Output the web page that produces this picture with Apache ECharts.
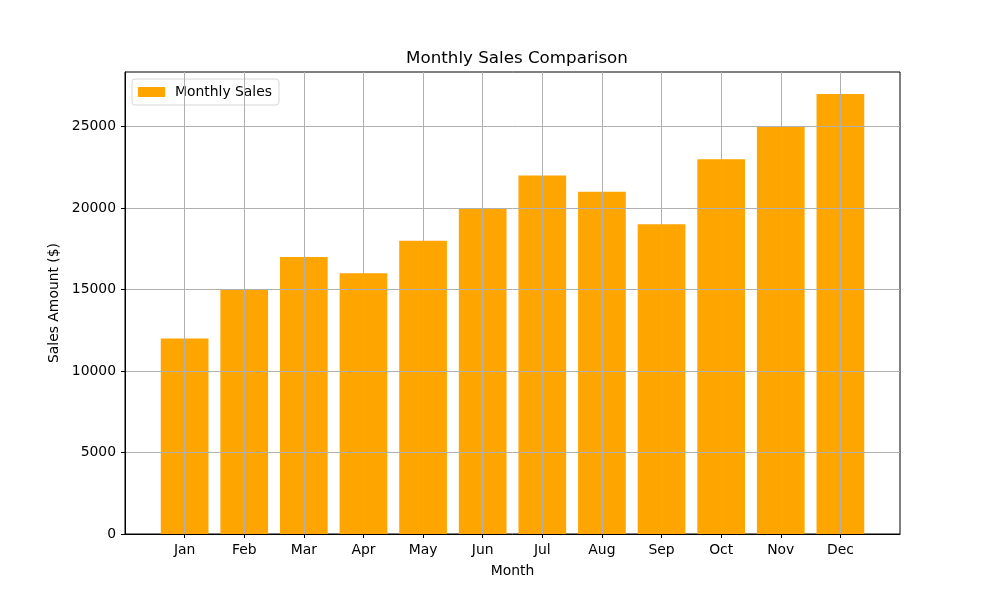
<!DOCTYPE html>
<html>
<head>
<meta charset="utf-8">
<script src="https://cdn.jsdelivr.net/npm/echarts@6/dist/echarts.min.js"></script>
<style>
  html, body { margin: 0; padding: 0; background: #fff; }
  #chart { width: 1000px; height: 600px; }
</style>
</head>
<body>
<div id="chart"></div>
<script>
// data
const months = ['Jan', 'Feb', 'Mar', 'Apr', 'May', 'Jun', 'Jul', 'Aug', 'Sep', 'Oct', 'Nov', 'Dec']
const sales = [12000, 15000, 17000, 16000, 18000, 20000, 22000, 21000, 19000, 23000, 25000, 27000]
const yTicks = [0, 5000, 10000, 15000, 20000, 25000]

const font = 'DejaVu Sans'
const chart = echarts.init(document.getElementById('chart'))

const option = {
  animation: false,
  title: {
    text: 'Monthly Sales Comparison',
    left: 512,
    top: 45,
    textAlign: 'center',
    textStyle: { fontFamily: font, fontSize: 16.7, fontWeight: 'normal', color: '#000' }
  },
  legend: {
    left: 132,
    top: 79,
    padding: [6, 7, 6, 6],
    itemWidth: 27,
    itemHeight: 10,
    icon: 'rect',
    backgroundColor: 'rgba(255,255,255,0.8)',
    borderColor: '#d6d6d6',
    borderWidth: 1,
    borderRadius: 3,
    textStyle: { fontFamily: font, fontSize: 13.9, color: '#000', padding: [0, 0, 0, 5] },
    data: ['Monthly Sales']
  },
  grid: {
    left: 125,
    right: 100,
    top: 72,
    bottom: 66,
    show: true,
    borderColor: '#000',
    borderWidth: 1
  },
  xAxis: {
    type: 'value',
    min: -1,
    max: 12,
    interval: 1,
    z: 5,
    name: 'Month',
    nameLocation: 'middle',
    nameGap: 30,
    nameTextStyle: { fontFamily: font, fontSize: 13.9, color: '#000' },
    axisLine: { show: true, onZero: false, lineStyle: { color: '#000', width: 1 } },
    axisTick: {
      show: true,
      customValues: months.map((m, i) => i),
      length: 4,
      inside: false,
      lineStyle: { color: '#000', width: 1 }
    },
    axisLabel: {
      customValues: months.map((m, i) => i),
      formatter: v => months[v] || '',
      fontFamily: font,
      fontSize: 13.9,
      color: '#000',
      margin: 9
    },
    splitLine: { show: true, lineStyle: { color: '#b0b0b0', width: 1 } }
  },
  yAxis: {
    type: 'value',
    min: 0,
    max: 28350,
    z: 5,
    name: 'Sales Amount ($)',
    nameLocation: 'middle',
    nameGap: 53,
    nameTextStyle: { fontFamily: font, fontSize: 13.9, color: '#000' },
    axisLine: { show: true, onZero: false, lineStyle: { color: '#000', width: 1 } },
    axisTick: {
      show: true,
      customValues: yTicks,
      length: 4,
      inside: false,
      lineStyle: { color: '#000', width: 1 }
    },
    axisLabel: {
      customValues: yTicks,
      formatter: v => String(v),
      fontFamily: font,
      fontSize: 13.9,
      color: '#000',
      margin: 9
    },
    splitLine: { show: true, lineStyle: { color: '#b0b0b0', width: 1 } }
  },
  series: [
    {
      name: 'Monthly Sales',
      type: 'bar',
      barWidth: 47.7,
      itemStyle: { color: '#FFA500' },
      data: sales.map((v, i) => [i, v])
    }
  ]
}

chart.setOption(option)
</script>
</body>
</html>
